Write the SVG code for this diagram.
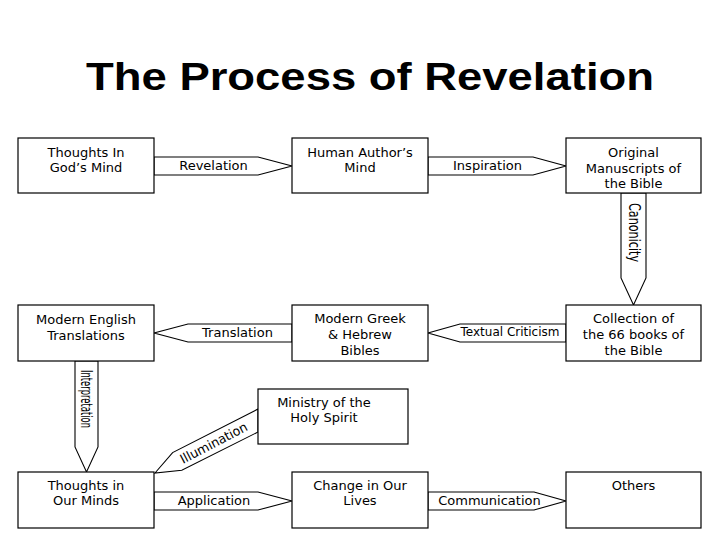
<svg xmlns="http://www.w3.org/2000/svg" width="720" height="540" viewBox="0 0 720 540">
<style>
.box{fill:#fff;stroke:#000;stroke-width:1.2}
.arr{fill:#fff;stroke:#000;stroke-width:1.1;stroke-linejoin:miter}
.t{font-family:"DejaVu Sans","Liberation Sans",sans-serif;font-size:13px;fill:#000;text-anchor:middle}
.s{font-size:12px}
.v{font-size:15px}
.title{font-family:"Liberation Sans",Arial,sans-serif;font-weight:bold;font-size:39px;fill:#000}
</style>
<rect width="720" height="540" fill="#fff"/>
<text class="title" x="86" y="90" textLength="568" lengthAdjust="spacingAndGlyphs">The Process of Revelation</text>

<g id="connectors">
  <g id="revelation">
    <polygon class="arr" points="154,157 258,157 292,166 258,175 154,175"/>
    <text class="t" x="213.5" y="170">Revelation</text>
  </g>
  <g id="inspiration">
    <polygon class="arr" points="428,157 533,157 566,166 533,175 428,175"/>
    <text class="t" x="487.5" y="170">Inspiration</text>
  </g>
  <g id="canonicity">
    <polygon class="arr" points="621,193 621,278 633.5,305 646,278 646,193"/>
    <text class="t v" transform="translate(633.5,232.5) rotate(90)" x="0" y="5" textLength="59" lengthAdjust="spacingAndGlyphs">Canonicity</text>
  </g>
  <g id="textual-criticism">
    <polygon class="arr" points="566,324 460,324 428,333 460,342 566,342"/>
    <text class="t s" x="510" y="336">Textual Criticism</text>
  </g>
  <g id="translation">
    <polygon class="arr" points="292,324 188,324 154,333 188,342 292,342"/>
    <text class="t" x="237.5" y="337">Translation</text>
  </g>
  <g id="interpretation">
    <polygon class="arr" points="75,361 75,447 86.5,472 98,447 98,361"/>
    <text class="t v" transform="translate(86,399) rotate(90)" x="0" y="5" textLength="58" lengthAdjust="spacingAndGlyphs">Interpretation</text>
  </g>
  <g id="illumination">
    <polygon class="arr" points="155,473 172.6,452.6 258,409 258,432 181.8,470.3"/>
    <text class="t" transform="translate(155,473) rotate(-27.5)" x="66" y="5" textLength="74" lengthAdjust="spacingAndGlyphs">Illumination</text>
  </g>
  <g id="application">
    <polygon class="arr" points="154,492 258,492 292,501 258,510 154,510"/>
    <text class="t" x="214" y="505">Application</text>
  </g>
  <g id="communication">
    <polygon class="arr" points="428,492 534,492 566,501 534,510 428,510"/>
    <text class="t" x="489.5" y="505">Communication</text>
  </g>
</g>

<g id="gods-mind">
  <rect class="box" x="18" y="138" width="136" height="55"/>
  <text class="t" x="86" y="157">Thoughts In</text>
  <text class="t" x="86" y="171.5">God’s Mind</text>
</g>
<g id="human-author">
  <rect class="box" x="292" y="138" width="136" height="55"/>
  <text class="t" x="360" y="157">Human Author’s</text>
  <text class="t" x="360" y="171.5">Mind</text>
</g>
<g id="original-manuscripts">
  <rect class="box" x="566" y="138" width="135" height="55"/>
  <text class="t" x="633.5" y="157">Original</text>
  <text class="t" x="633.5" y="172.5">Manuscripts of</text>
  <text class="t" x="633.5" y="188">the Bible</text>
</g>
<g id="modern-english">
  <rect class="box" x="18" y="305" width="136" height="56"/>
  <text class="t" x="86" y="323.5">Modern English</text>
  <text class="t" x="86" y="339.5">Translations</text>
</g>
<g id="modern-greek">
  <rect class="box" x="292" y="305" width="136" height="56"/>
  <text class="t" x="360" y="322.5">Modern Greek</text>
  <text class="t" x="360" y="338.5">&amp; Hebrew</text>
  <text class="t" x="360" y="354.5">Bibles</text>
</g>
<g id="collection">
  <rect class="box" x="566" y="305" width="135" height="56"/>
  <text class="t" x="633.5" y="322.5">Collection of</text>
  <text class="t" x="633.5" y="338.5">the 66 books of</text>
  <text class="t" x="633.5" y="354.5">the Bible</text>
</g>
<g id="holy-spirit">
  <rect class="box" x="258" y="389" width="150" height="55"/>
  <text class="t" x="324" y="407">Ministry of the</text>
  <text class="t" x="324" y="422">Holy Spirit</text>
</g>
<g id="our-minds">
  <rect class="box" x="18" y="472" width="136" height="56"/>
  <text class="t" x="86" y="490">Thoughts in</text>
  <text class="t" x="86" y="505">Our Minds</text>
</g>
<g id="change-lives">
  <rect class="box" x="292" y="472" width="136" height="56"/>
  <text class="t" x="360" y="490">Change in Our</text>
  <text class="t" x="360" y="505">Lives</text>
</g>
<g id="others">
  <rect class="box" x="566" y="472" width="135" height="56"/>
  <text class="t" x="633.5" y="490">Others</text>
</g>
</svg>
